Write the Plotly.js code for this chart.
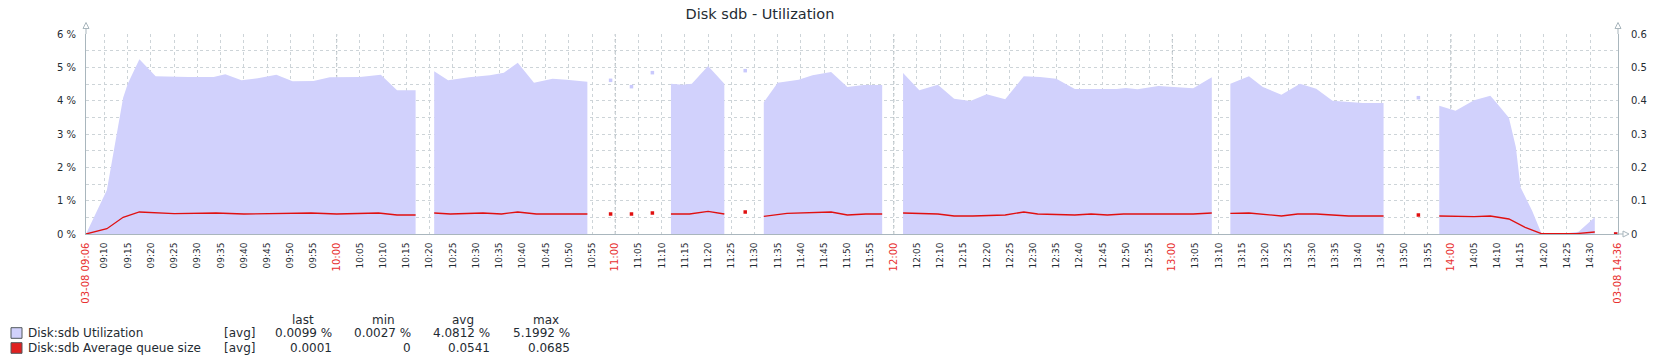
<!DOCTYPE html>
<html>
<head>
<meta charset="utf-8">
<script src="https://cdn.plot.ly/plotly-3.0.1.min.js"></script>
<style>html,body{margin:0;padding:0;background:#fff;}#chart{width:1679px;height:361px;}</style>
</head>
<body>
<div id="chart"></div>
<script>
const DAY = '2024-03-08 ';

// Disk:sdb Utilization (%), null = no data
const utilTime = ['09:06','09:10:30','09:14','09:15','09:17:30','09:21','09:28','09:33:30','09:36','09:39:30','09:43','09:47','09:50:30','09:55','09:58:30','10:05','10:09:30','10:13','10:17','10:19',
  '10:21','10:24','10:28:30','10:33','10:36','10:39','10:42:30','10:46:30','10:49:30','10:54','10:58',
  '11:12','11:14:30','11:16:30','11:20','11:23:30','11:26',
  '11:32','11:35','11:39:30','11:42:30','11:46:30','11:50','11:53:30','11:57:30','12:00',
  '12:02','12:05:30','12:09:30','12:13','12:16:30','12:20','12:24','12:28','12:31:30','12:35','12:39','12:43:30','12:48','12:50','12:52:30','12:57','13:00','13:04:30','13:08:30','13:10',
  '13:12:30','13:16:30','13:19:30','13:23:30','13:27:30','13:31','13:34:30','13:38','13:41','13:45:30','13:50',
  '13:57:30','14:01','14:05','14:08:30','14:10','14:12:30','14:14','14:15','14:17:30','14:19:30','14:25','14:27:30','14:31'];
const utilValue = [0,1.32,4.09,4.51,5.24,4.73,4.71,4.71,4.79,4.61,4.67,4.78,4.58,4.59,4.70,4.71,4.78,4.31,4.31,null,
  4.88,4.61,4.70,4.76,4.84,5.14,4.54,4.66,4.63,4.57,null,
  4.51,4.48,4.51,5.04,4.51,null,
  3.95,4.54,4.63,4.76,4.86,4.41,4.47,4.47,null,
  4.83,4.31,4.48,4.06,3.99,4.19,4.04,4.73,4.71,4.66,4.35,4.34,4.35,4.38,4.34,4.44,4.41,4.37,4.70,null,
  4.51,4.73,4.41,4.18,4.51,4.36,4.00,3.96,3.93,3.93,null,
  3.85,3.70,4.01,4.15,3.91,3.49,2.60,1.40,0.70,0.02,0.02,0.07,0.50];

// Disk:sdb Average queue size, null = no data
const queueTime = ['09:06','09:10:30','09:14','09:17:30','09:25','09:34','09:40','09:54:30','10:00','10:09','10:13','10:17','10:19',
  '10:21','10:24:30','10:31:30','10:35:30','10:39','10:43','10:54','10:58',
  '11:12','11:16','11:20','11:23:30','11:26',
  '11:32','11:37','11:46:30','11:50','11:54','11:57:30','12:00',
  '12:02','12:09:30','12:13','12:17','12:24','12:28','12:31','12:39','12:42:30','12:46','12:49:30','13:04:30','13:08:30','13:10',
  '13:12:30','13:16:30','13:23:30','13:27','13:31','13:38','13:45:30','13:50',
  '13:57:30','14:05','14:08:30','14:12:30','14:16','14:19:30','14:27','14:31'];
const queueValue = [0,0.016,0.050,0.066,0.061,0.063,0.060,0.063,0.060,0.063,0.057,0.057,null,
  0.063,0.060,0.063,0.060,0.066,0.060,0.060,null,
  0.060,0.060,0.068,0.060,null,
  0.053,0.062,0.066,0.057,0.060,0.060,null,
  0.063,0.060,0.054,0.054,0.057,0.066,0.060,0.057,0.060,0.057,0.060,0.060,0.063,null,
  0.062,0.063,0.054,0.060,0.060,0.054,0.054,null,
  0.054,0.052,0.054,0.045,0.020,0.001,0.001,0.006];

// isolated samples
const dotTime = ['10:59','11:03:30','11:08','11:28','13:53','14:35:30'];
const dotUtil = [4.61,4.42,4.84,4.90,4.09,0.0099];
const dotQueue = [0.060,0.060,0.063,0.066,0.057,0.0001];

// x tick labels
const tickTime = ['09:06','09:10','09:15','09:20','09:25','09:30','09:35','09:40','09:45','09:50','09:55','10:00','10:05','10:10','10:15','10:20','10:25','10:30','10:35','10:40','10:45','10:50','10:55','11:00','11:05','11:10','11:15','11:20','11:25','11:30','11:35','11:40','11:45','11:50','11:55','12:00','12:05','12:10','12:15','12:20','12:25','12:30','12:35','12:40','12:45','12:50','12:55','13:00','13:05','13:10','13:15','13:20','13:25','13:30','13:35','13:40','13:45','13:50','13:55','14:00','14:05','14:10','14:15','14:20','14:25','14:30','14:36'];
const tickLabel = ['03-08 09:06','09:10','09:15','09:20','09:25','09:30','09:35','09:40','09:45','09:50','09:55','10:00','10:05','10:10','10:15','10:20','10:25','10:30','10:35','10:40','10:45','10:50','10:55','11:00','11:05','11:10','11:15','11:20','11:25','11:30','11:35','11:40','11:45','11:50','11:55','12:00','12:05','12:10','12:15','12:20','12:25','12:30','12:35','12:40','12:45','12:50','12:55','13:00','13:05','13:10','13:15','13:20','13:25','13:30','13:35','13:40','13:45','13:50','13:55','14:00','14:05','14:10','14:15','14:20','14:25','14:30','03-08 14:36'];
const leftTicks = [0,1,2,3,4,5,6];
const leftTickLabels = ['0 %','1 %','2 %','3 %','4 %','5 %','6 %'];
const leftMinor = [0.5,1,1.5,2,2.5,3,3.5,4,4.5,5,5.5];
const rightTicks = [0,0.1,0.2,0.3,0.4,0.5,0.6];
const rightTickLabels = ['0','0.1','0.2','0.3','0.4','0.5','0.6'];

const legendRows = [
  {name:'Disk:sdb Utilization', fn:'[avg]', last:'0.0099 %', min:'0.0027 %', avg:'4.0812 %', max:'5.1992 %', color:'#d1d1fc'},
  {name:'Disk:sdb Average queue size', fn:'[avg]', last:'0.0001', min:'0', avg:'0.0541', max:'0.0685', color:'#e02020'}
];

const T = s => DAY + (s.length === 5 ? s + ':00' : s);

const TXT = '#1f2c33', RED = '#e8302f', AX = '#a9b6bd', GRID = '#cdd4d8', HOUR = '#a3adb2';
const FONT = 'DejaVu Sans, Liberation Sans, sans-serif';

const L = 86, W = 1532, TOP = 34, H = 200;
const px = x => (x - L) / W;
const py = y => (TOP + H - y) / H;

const isRed = s => s.indexOf('03-08') === 0 || s.slice(-3) === ':00';
const tickText = tickLabel.map(s => isRed(s) ? '<span style="color:' + RED + ';font-size:10px">' + s + '</span>' : s);

// split a series at nulls so each filled block stays separate
function segments(times, values) {
  const out = []; let cur = {x:[], y:[]};
  times.forEach((t, i) => {
    if (values[i] === null) { if (cur.x.length) out.push(cur); cur = {x:[], y:[]}; }
    else { cur.x.push(T(t)); cur.y.push(values[i]); }
  });
  if (cur.x.length) out.push(cur);
  return out;
}

const traces = [];
segments(utilTime, utilValue).forEach(s => traces.push({
  x:s.x, y:s.y, type:'scatter', mode:'lines', fill:'tozeroy', fillcolor:'#d1d1fc',
  line:{width:0, color:'#d1d1fc'}, hoverinfo:'skip', yaxis:'y'}));
traces.push({x: dotTime.map(T), y: dotUtil, type:'scatter', mode:'markers', marker:{symbol:'square', size:3.5, color:'#c9c9fc'}, hoverinfo:'skip'});
traces.push({x: queueTime.map(T), y: queueValue, type:'scatter', mode:'lines', line:{width:1.3, color:'#e01010'}, connectgaps:false, hoverinfo:'skip', yaxis:'y2'});
traces.push({x: dotTime.map(T), y: dotQueue, type:'scatter', mode:'markers', marker:{symbol:'square', size:3.5, color:'#e01010'}, hoverinfo:'skip', yaxis:'y2'});

const shapes = [];
// hour grid lines (darker)
tickTime.forEach((t, i) => {
  if (t.slice(-3) === ':00' && i > 0 && i < tickTime.length - 1) {
    shapes.push({type:'line', xref:'x', yref:'paper', x0:T(t), x1:T(t), y0:0, y1:1, layer:'below',
      line:{color:HOUR, width:1, dash:'3px,3px'}});
  }
});
// axis arrows
const axLine = {color:AX, width:1};
shapes.push({type:'line', xref:'paper', yref:'paper', x0:0, x1:0, y0:1, y1:py(28), line:axLine});
shapes.push({type:'line', xref:'paper', yref:'paper', x0:1, x1:1, y0:1, y1:py(28), line:axLine});
shapes.push({type:'line', xref:'paper', yref:'paper', x0:1, x1:px(1623), y0:0, y1:0, line:axLine});
const tri = (pts) => 'M' + pts.map(p => px(p[0]) + ',' + py(p[1])).join(' L') + ' Z';
shapes.push({type:'path', xref:'paper', yref:'paper', path:tri([[83,28.5],[89,28.5],[86,22.5]]), fillcolor:'#fff', line:axLine});
shapes.push({type:'path', xref:'paper', yref:'paper', path:tri([[1615,28.5],[1621,28.5],[1618,22.5]]), fillcolor:'#fff', line:axLine});
shapes.push({type:'path', xref:'paper', yref:'paper', path:tri([[1623,231],[1623,237],[1629,234]]), fillcolor:'#fff', line:axLine});

// legend
const annotations = [];
const ann = (text, x, y, xanchor) => annotations.push({text, x:px(x), y:py(y), xref:'paper', yref:'paper',
  xanchor, yanchor:'middle', showarrow:false, font:{family:FONT, size:12, color:TXT}, borderpad:0});
ann('last', 303, 320, 'center');
ann('min', 383, 320, 'center');
ann('avg', 463, 320, 'center');
ann('max', 546, 320, 'center');
legendRows.forEach((r, i) => {
  const y = 333 + i * 15;
  shapes.push({type:'rect', xref:'paper', yref:'paper', x0:px(11), x1:px(22), y0:py(y - 5.3), y1:py(y + 5.3),
    fillcolor:r.color, line:{color:'#50585c', width:1}});
  ann(r.name, 27, y, 'left');
  ann(r.fn, 223, y, 'left');
  ann(r.last, 333, y, 'right');
  ann(r.min, 412, y, 'right');
  ann(r.avg, 491, y, 'right');
  ann(r.max, 571, y, 'right');
});

const layout = {
  width:1679, height:361,
  margin:{l:L, r:1679 - L - W, t:TOP, b:361 - TOP - H, pad:0},
  paper_bgcolor:'#fff', plot_bgcolor:'#fff',
  showlegend:false,
  font:{family:FONT, color:TXT},
  title:{text:'Disk sdb - Utilization', x:760/1679, xref:'container', xanchor:'center',
    y:1 - 14/361, yref:'container', yanchor:'middle', font:{family:FONT, size:14.5, color:TXT}},
  xaxis:{type:'date', range:[T('09:06'), T('14:36')], tickmode:'array', tickvals:tickTime.map(T), ticktext:tickText,
    tickangle:-90, tickfont:{family:FONT, size:9, color:TXT}, ticks:'', ticklabelstandoff:4,
    showgrid:true, gridcolor:GRID, griddash:'3px,3px', gridwidth:1,
    showline:true, linecolor:AX, linewidth:1, zeroline:false, fixedrange:true},
  yaxis:{range:[0,6], tickmode:'array', tickvals:leftTicks, ticktext:leftTickLabels,
    tickfont:{family:FONT, size:10, color:TXT}, ticks:'', ticklabelstandoff:7,
    showgrid:false, zeroline:false, showline:true, linecolor:AX, linewidth:1,
    minor:{tickmode:'array', tickvals:leftMinor, showgrid:true, gridcolor:GRID, griddash:'3px,3px', gridwidth:1, ticks:''},
    fixedrange:true},
  yaxis2:{range:[0,0.6], overlaying:'y', side:'right', tickmode:'array', tickvals:rightTicks, ticktext:rightTickLabels,
    tickfont:{family:FONT, size:10, color:TXT}, ticks:'', ticklabelstandoff:10,
    showgrid:false, zeroline:false, showline:true, linecolor:AX, linewidth:1, fixedrange:true},
  shapes, annotations
};

Plotly.newPlot('chart', traces, layout, {displayModeBar:false, staticPlot:true});
</script>
</body>
</html>
